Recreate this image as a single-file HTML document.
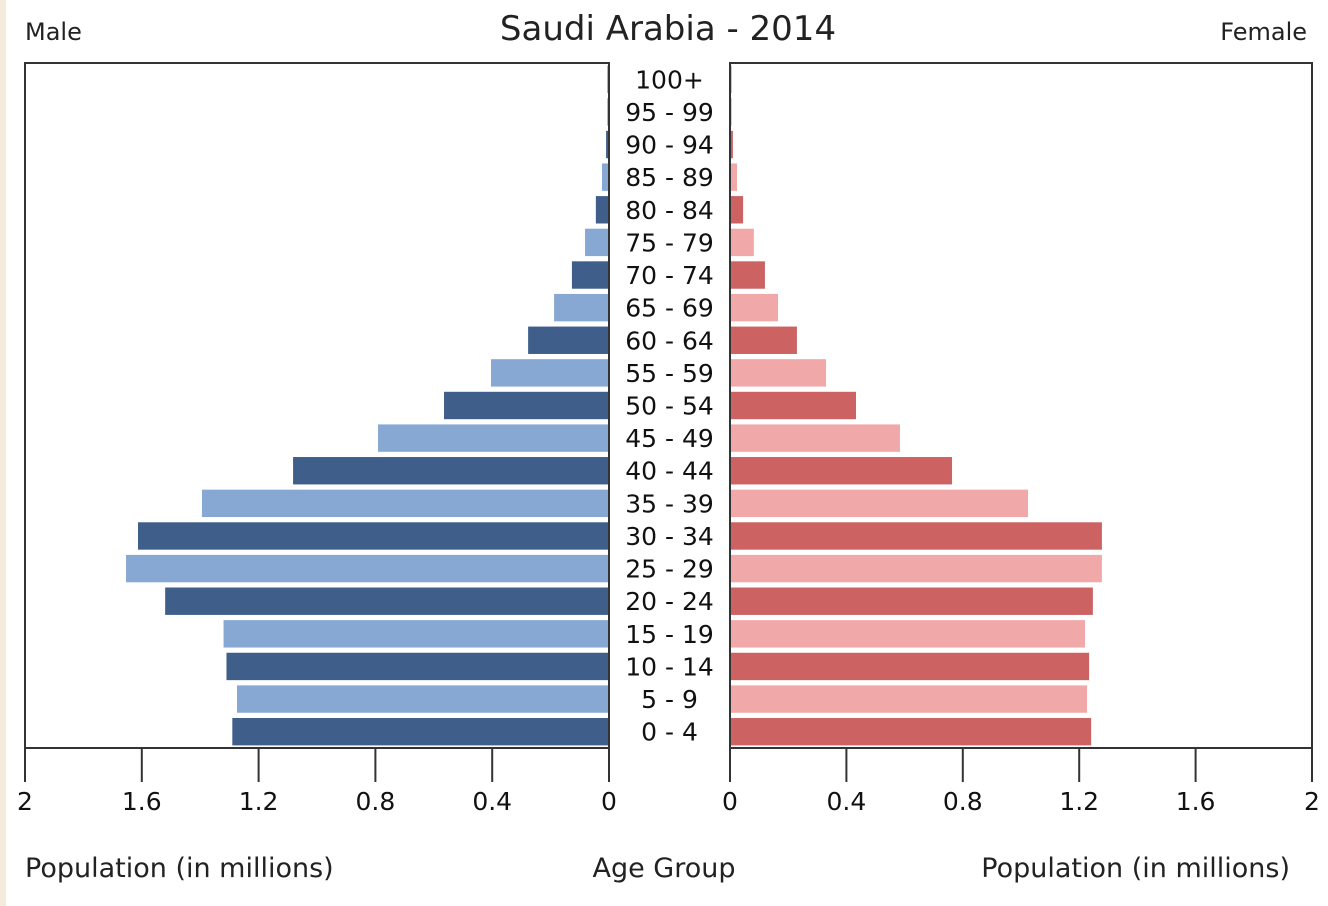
<!DOCTYPE html>
<html><head><meta charset="utf-8"><style>
body{margin:0;background:#fff;}
svg{display:block;font-family:"DejaVu Sans","Liberation Sans",sans-serif;}
</style></head><body>
<svg id="chart" width="1328" height="906" viewBox="0 0 1328 906">
<rect x="0" y="0" width="6" height="906" fill="#f3ecdc"/>
<text x="668" y="40" font-size="34" text-anchor="middle" fill="#222">Saudi Arabia - 2014</text>
<text x="25" y="40" font-size="24" fill="#222">Male</text>
<text x="1307" y="40" font-size="24" fill="#222" text-anchor="end">Female</text>
<text x="25" y="877" font-size="27" fill="#222">Population (in millions)</text>
<text x="664" y="877" font-size="27" fill="#222" text-anchor="middle">Age Group</text>
<text x="1290" y="877" font-size="27" fill="#222" text-anchor="end">Population (in millions)</text>
<g id="bars"></g>
<g id="axes"></g>
</svg>
<script>
const ageGroups=["0 - 4","5 - 9","10 - 14","15 - 19","20 - 24","25 - 29","30 - 34","35 - 39","40 - 44","45 - 49","50 - 54","55 - 59","60 - 64","65 - 69","70 - 74","75 - 79","80 - 84","85 - 89","90 - 94","95 - 99","100+"];
const maleValues=[1.29,1.274,1.31,1.32,1.52,1.654,1.613,1.394,1.082,0.791,0.565,0.404,0.277,0.188,0.127,0.082,0.045,0.024,0.01,0.006,0.005];
const femaleValues=[1.241,1.227,1.234,1.22,1.247,1.278,1.278,1.024,0.763,0.584,0.433,0.33,0.23,0.165,0.12,0.082,0.045,0.024,0.01,0.006,0.005];
const tickValues=[0,0.4,0.8,1.2,1.6,2];
const tickLabels=["0","0.4","0.8","1.2","1.6","2"];
const NS="http://www.w3.org/2000/svg";
const L0=609,L2=25,R0=730,R2=1312,plotTop=63,plotBottom=748;
const xL=v=>L0-(L0-L2)*v/2;
const xR=v=>R0+(R2-R0)*v/2;
const pitch=(plotBottom-plotTop)/ageGroups.length;
const yC=i=>plotBottom-pitch*(i+0.5);
const bh=pitch*0.84;
function mk(tag,attrs,parent){const e=document.createElementNS(NS,tag);for(const k in attrs)e.setAttribute(k,attrs[k]);parent.appendChild(e);return e;}
const bars=document.getElementById('bars'),axes=document.getElementById('axes');
ageGroups.forEach((g,i)=>{
  const dark=i%2===0;
  const m=mk('rect',{x:xL(maleValues[i]),y:yC(i)-bh/2,width:L0-xL(maleValues[i]),height:bh,fill:dark?'#3f5f8a':'#86a8d2'},bars);
  
  
  const f=mk('rect',{x:R0,y:yC(i)-bh/2,width:xR(femaleValues[i])-R0,height:bh,fill:dark?'#cc6262':'#f0a8a8'},bars);
  
  
  const t=mk('text',{x:(L0+R0)/2,y:yC(i)+9,'font-size':25,'text-anchor':'middle',fill:'#111'},bars);
  t.textContent=g;
  
  
});
[[L2,L0],[R0,R2]].forEach((p,k)=>{
  const r=mk('rect',{x:p[0],y:plotTop,width:p[1]-p[0],height:plotBottom-plotTop,fill:'none',stroke:'#333','stroke-width':2},axes);
  
  
});
tickValues.forEach((v,j)=>{
  [xL(v),xR(v)].forEach((x,k)=>{
    const l=mk('line',{x1:x,x2:x,y1:plotBottom,y2:782,stroke:'#333','stroke-width':2},axes);
    
    
    const t=mk('text',{x:x,y:810,'font-size':25,'text-anchor':'middle',fill:'#111'},axes);
    t.textContent=tickLabels[j];
    
    
  });
});
</script>
</body></html>
